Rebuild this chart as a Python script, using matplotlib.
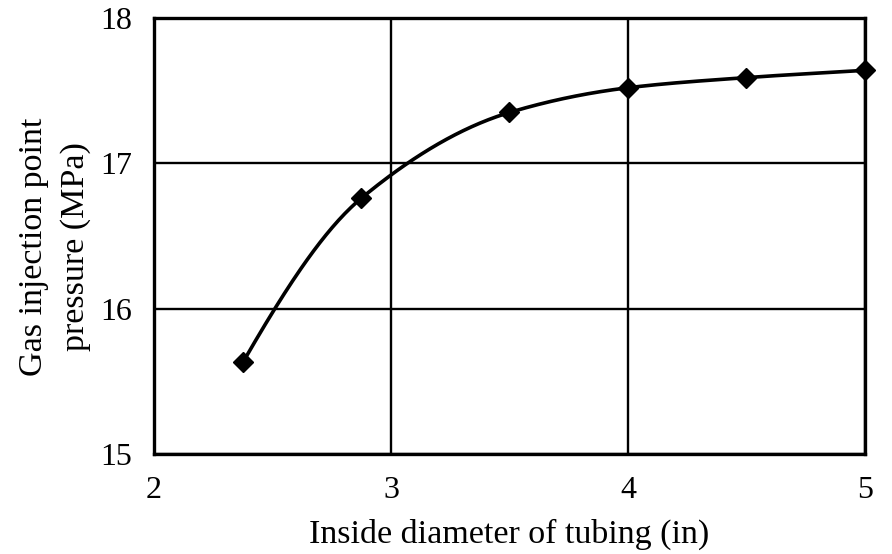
import matplotlib
matplotlib.use("Agg")
import matplotlib.pyplot as plt
import numpy as np

# tubing inside diameter (in) and gas injection point pressure (MPa)
diameter = [2.375, 2.875, 3.5, 4.0, 4.5, 5.0]
pressure = [15.63, 16.76, 17.35, 17.52, 17.59, 17.64]

x_ticks = [2, 3, 4, 5]
y_ticks = [15, 16, 17, 18]


def pchip(x, y, xs):
    """monotone cubic hermite curve through the points"""
    x = np.asarray(x, float)
    y = np.asarray(y, float)
    h = np.diff(x)
    d = np.diff(y) / h
    m = np.zeros_like(y)
    for k in range(1, len(x) - 1):
        if d[k - 1] * d[k] > 0:
            w1 = 2 * h[k] + h[k - 1]
            w2 = h[k] + 2 * h[k - 1]
            m[k] = (w1 + w2) / (w1 / d[k - 1] + w2 / d[k])
    m[0] = d[0] * 1.25
    m[-1] = d[-1]
    idx = np.clip(np.searchsorted(x, xs) - 1, 0, len(x) - 2)
    t = (xs - x[idx]) / h[idx]
    h00 = 2 * t**3 - 3 * t**2 + 1
    h10 = t**3 - 2 * t**2 + t
    h01 = -2 * t**3 + 3 * t**2
    h11 = t**3 - t**2
    return h00 * y[idx] + h10 * h[idx] * m[idx] + h01 * y[idx + 1] + h11 * h[idx] * m[idx + 1]


plt.rcParams["font.family"] = ["Liberation Serif", "DejaVu Serif"]

fig = plt.figure(figsize=(8.92, 5.54), dpi=100)
ax = fig.add_axes([0.1726, 0.1805, 0.7971, 0.787])

xs = np.linspace(diameter[0], diameter[-1], 300)
ax.plot(xs, pchip(diameter, pressure, xs), color="black", lw=2.6)
ax.plot(diameter, pressure, linestyle="none", marker="D", color="black",
        markersize=10, clip_on=False)

ax.set_xlim(2, 5)
ax.set_ylim(15, 18)
ax.set_xticks(x_ticks)
ax.set_yticks(y_ticks)
ax.tick_params(length=0, labelsize=23)
ax.tick_params(axis="x", pad=16)
ax.tick_params(axis="y", pad=16)
ax.grid(True, color="black", lw=1.7)
for s in ax.spines.values():
    s.set_linewidth(2.4)

ax.set_xlabel("Inside diameter of tubing (in)", fontsize=24.5, labelpad=10)
ax.set_ylabel("Gas injection point\npressure (MPa)", fontsize=24.5,
              linespacing=1.5)
ax.yaxis.set_label_coords(-0.088, 0.475)

plt.savefig("out.png", dpi=100)
